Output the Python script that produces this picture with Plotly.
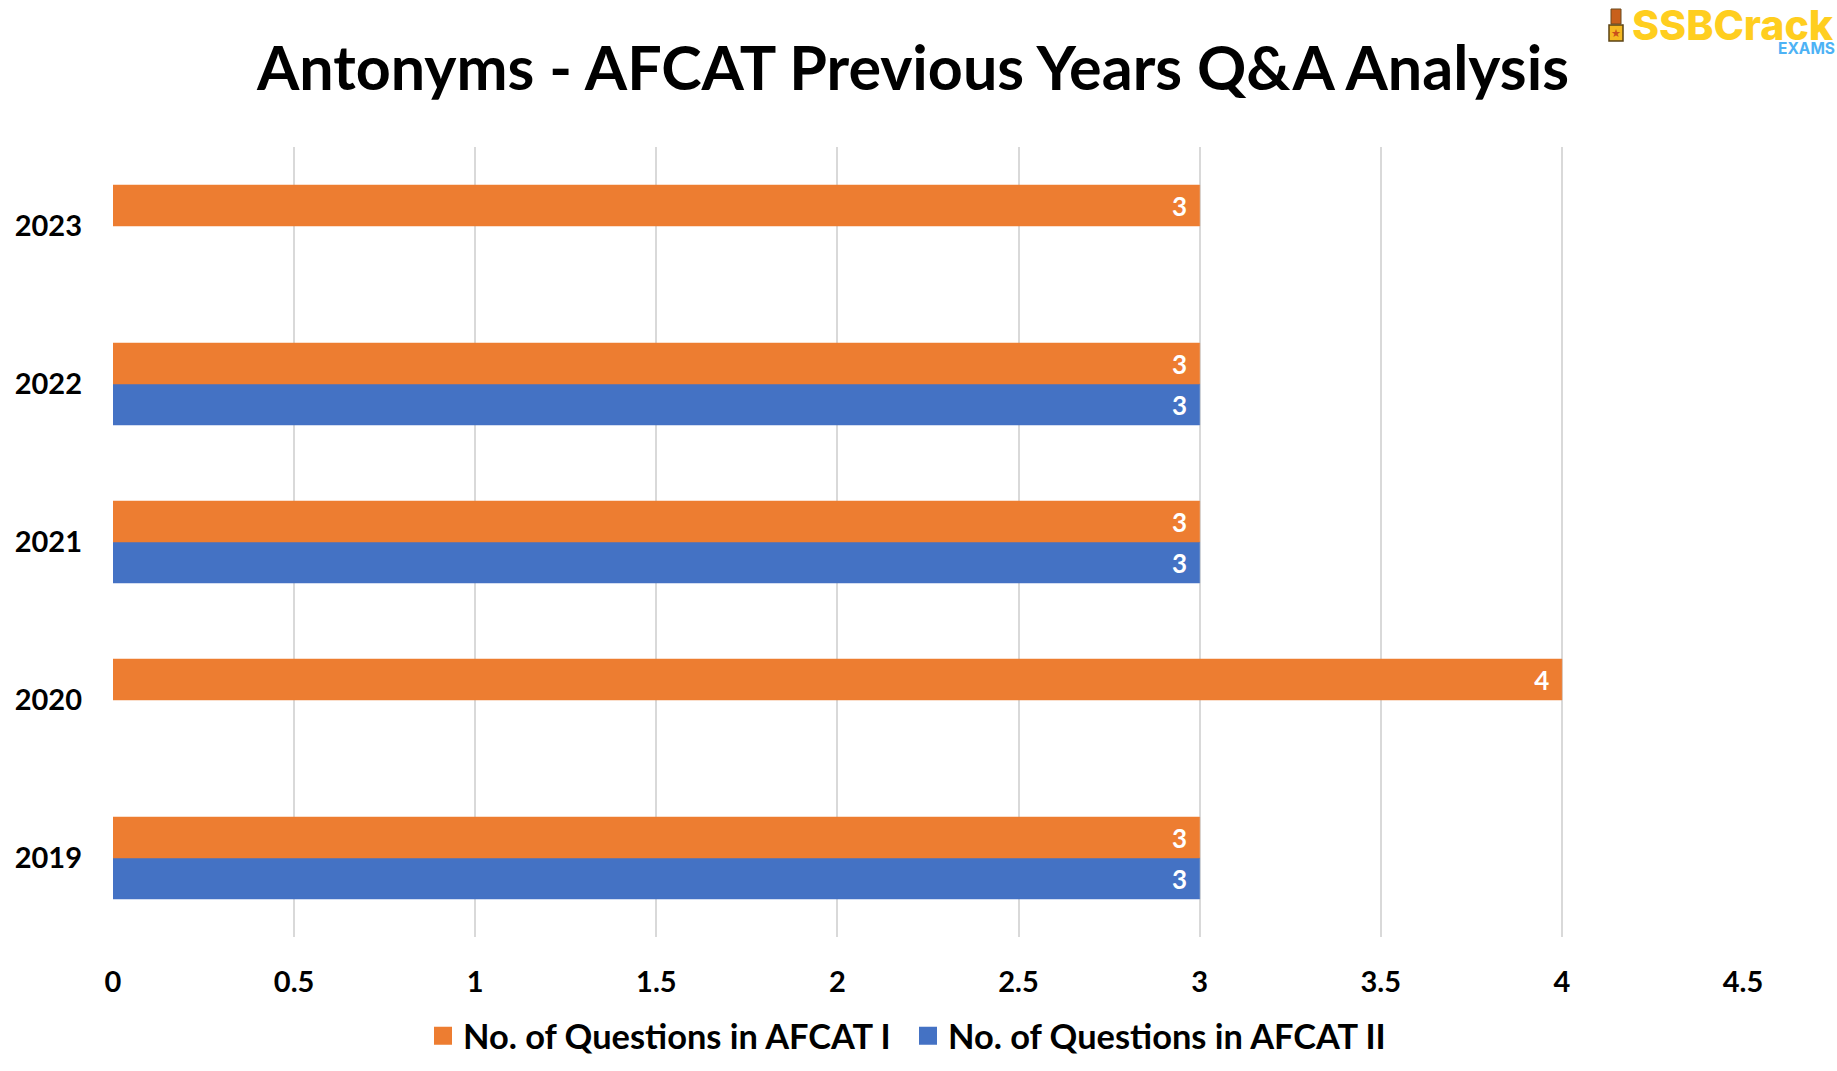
# Antonyms question counts per year, as a grouped horizontal bar chart.
import plotly.graph_objects as go

# Chart data
years = ['2019', '2020', '2021', '2022', '2023']
afcat_1 = [3, 4, 3, 3, 3]
afcat_2 = [3, None, 3, 3, None]
x_ticks = [0, 0.5, 1, 1.5, 2, 2.5, 3, 3.5, 4, 4.5]

FONT = 'Lato'
ORANGE = '#ED7D31'
BLUE = '#4472C4'
W, H = 1837, 1071
L, R, T, B = 113, 94, 147, 134


# Page pixels to paper coordinates, for the logo
def px(v):
    return (v - L) / (W - L - R)


def py(v):
    return 1 - (v - T) / (H - T - B)


fig = go.Figure()

# Horizontal groups stack from the bottom up, so AFCAT II goes first
# (thin same-colour outline hides the light seam between the two bars)
fig.add_trace(go.Bar(y=years, x=afcat_2, name='No. of Questions in AFCAT II',
                     orientation='h', marker=dict(color=BLUE, line=dict(color=BLUE, width=0.5)),
                     showlegend=False,
                     texttemplate='%{x}&nbsp;\u2009', textposition='inside',
                     insidetextanchor='end', textangle=0,
                     textfont=dict(family=FONT, size=26, color='white', weight=700)))
fig.add_trace(go.Bar(y=years, x=afcat_1, name='No. of Questions in AFCAT I',
                     orientation='h', marker=dict(color=ORANGE, line=dict(color=ORANGE, width=0.5)),
                     showlegend=False,
                     texttemplate='%{x}&nbsp;\u2009', textposition='inside',
                     insidetextanchor='end', textangle=0,
                     textfont=dict(family=FONT, size=26, color='white', weight=700)))

# Empty traces only for the legend, bar swatches are too small
for name, colour in [('No. of Questions in AFCAT I', ORANGE), ('No. of Questions in AFCAT II', BLUE)]:
    fig.add_trace(go.Scatter(x=[None], y=[None], name=name, mode='markers',
                             marker=dict(symbol='square', size=16, color=colour,
                                         line=dict(color=colour, width=2))))

fig.update_layout(
    width=W, height=H,
    margin=dict(l=L, r=R, t=T, b=B, autoexpand=False),
    paper_bgcolor='white', plot_bgcolor='white',
    font=dict(family=FONT, color='black', weight=700),
    barmode='group', bargap=1 - 82 / 158, bargroupgap=0,
    title=dict(text='Antonyms - AFCAT Previous Years Q&A Analysis',
               font=dict(family=FONT, size=61, color='black', weight=700),
               x=913 / W, xanchor='center', xref='container',
               y=1 - 69 / H, yanchor='middle'),
    legend=dict(orientation='h', entrywidth=440, entrywidthmode='pixels',
                x=px(908), xanchor='center', y=py(1036), yanchor='middle',
                font=dict(family=FONT, size=34.4, color='black', weight=700)),
)

fig.update_xaxes(range=[0, 4.5], tickvals=x_ticks, ticktext=[str(t) for t in x_ticks],
                 showgrid=True, gridcolor='#D9D9D9', gridwidth=1.5, zeroline=False,
                 showline=False, ticks='', ticklabelstandoff=25,
                 tickfont=dict(family=FONT, size=29, color='black', weight=700))
fig.update_yaxes(type='category', categoryorder='array', categoryarray=years,
                 showgrid=False, zeroline=False, showline=False, ticks='',
                 ticklabelstandoff=30,
                 tickfont=dict(family=FONT, size=29, color='black', weight=700))

# SSBCrack logo, top right
fig.add_shape(type='rect', xref='paper', yref='paper', x0=px(1611), x1=px(1621),
              y0=py(9), y1=py(24), fillcolor='#C8601C', line=dict(color='#6B4A1E', width=1))
fig.add_shape(type='rect', xref='paper', yref='paper', x0=px(1609), x1=px(1623),
              y0=py(25), y1=py(41), fillcolor='#F5B921', line=dict(color='#5B4315', width=1.5))
fig.add_annotation(text='★', xref='paper', yref='paper', x=px(1616), y=py(33),
                   xanchor='center', yanchor='middle', showarrow=False,
                   font=dict(family='DejaVu Sans', size=11, color='#C8501C'))
fig.add_annotation(text='SSBCrack', xref='paper', yref='paper', x=px(1836), y=py(25),
                   xanchor='right', yanchor='middle', showarrow=False,
                   font=dict(family='Inter', size=41, color='#FFCE1F', weight=800))
fig.add_annotation(text='EXAMS', xref='paper', yref='paper', x=px(1837), y=py(48),
                   xanchor='right', yanchor='middle', showarrow=False,
                   font=dict(family='Inter', size=15.5, color='#4DB2F5', weight=700))

# Page has a default body margin, drop it so the figure fills the window
fig.write_html('out.html', config=dict(displayModeBar=False),
               post_script="document.body.style.margin='0';")
